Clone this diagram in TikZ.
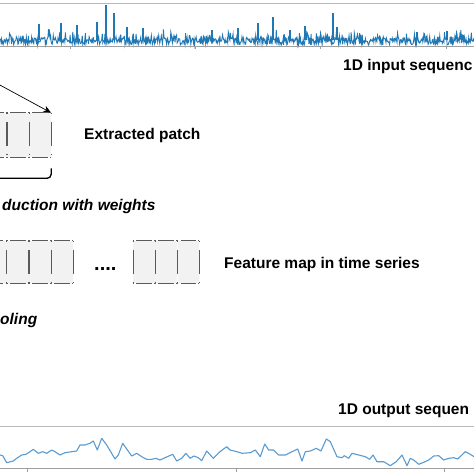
\documentclass[tikz,border=0pt]{standalone}
\usepackage{fontspec}
\setmainfont{Liberation Sans}
\usetikzlibrary{positioning,arrows.meta}
\definecolor{seqblue}{HTML}{1F77B4}
\definecolor{outblue}{HTML}{5A9BCF}
\definecolor{cellfill}{HTML}{F2F2F2}
\definecolor{edgegray}{HTML}{5A5A5A}
\tikzset{
  lbl/.style={inner sep=0pt, anchor=base west, font=\fontsize{15.5}{18}\selectfont\bfseries},
  ital/.style={lbl, font=\fontsize{15.5}{18}\selectfont\bfseries\itshape},
  cell/.style={fill=cellfill, inner sep=0pt, minimum width=21.7pt, minimum height=#1},
  hedge/.style={edgegray, line width=1.1pt, dash pattern=on 0.8pt off 2.4pt on 15.5pt off 2.4pt on 0.8pt off 10pt},
  vedge/.style={edgegray, line width=1.1pt, dash pattern=on 1pt off 8pt on 24pt off 8pt on 1pt off 10pt},
  frameln/.style={gray!55, line width=0.8pt},
  axisln/.style={gray!75, line width=0.8pt}
}
\begin{document}
\begin{tikzpicture}[x=1pt,y=-1pt,>={Stealth[length=8pt,width=7pt]}]
  \useasboundingbox (0,0) rectangle (474,474);
  \clip (0,0) rectangle (474,474);
  % input sequence
  \draw[frameln] (0,3) -- (474,3);
  \pgfmathsetseed{11}
  \draw[seqblue, line width=0.9pt] plot[domain=0:474, samples=900] (\x,{41.5+7*(rnd-0.5)-9*rnd^5});
  \foreach \sx/\sy in {39/24,61/23,77/25,97/22,106/5,114/13,127/27,143/28,212/30,238/28,258/23,273/17,290/30,305/26,333/13,337/27,417/32,447/31}
    \draw[seqblue, line width=1.1pt] (\sx,40) -- (\sx,\sy);
  \draw[axisln] (0,46) -- (474,46);
  \foreach \t in {70,195,320,446}
    \draw[axisln] (\t,46) -- (\t,49);
  \node[lbl] (inlbl) at (343,70) {1D input sequenc};
  % extracted patch
  \node[cell=44pt] (p1) at (18,135) {};
  \node[cell=44pt, right=0pt of p1] (p2) {};
  \node[cell=44pt, left=0pt of p1] (p0) {};
  \node[lbl] (patchlbl) at (84,139) {Extracted patch};
  \coordinate (src) at (-2,84);
  \draw[->, line width=0.7pt] (src) -- (p2.north east);
  \coordinate (brl) at (-5,178.3);
  \draw[line width=1.3pt, rounded corners=4pt] (brl) -- (p2.south east |- brl) -- ++(0,-10);
  \node[ital] (convlbl) at (2,210) {duction with weights};
  % feature map
  \node[cell=42pt] (m1) at (17.9,262) {};
  \node[cell=42pt, left=0pt of m1] (m0) {};
  \node[cell=42pt, right=0pt of m1] (m2) {};
  \node[cell=42pt, right=0pt of m2] (m3) {};
  \node[cell=42pt] (n1) at (144.2,262) {};
  \node[cell=42pt, right=0pt of n1] (n2) {};
  \node[cell=42pt, right=0pt of n2] (n3) {};
  \foreach \c in {p0,p1,p2,m0,m1,m2,m3,n1,n2,n3} {
    \draw[hedge] (\c.north west) -- (\c.north east);
    \draw[hedge] (\c.south west) -- (\c.south east);
    \draw[vedge] (\c.north west) -- (\c.south west);
    \draw[vedge] (\c.north east) -- (\c.south east);
  }
  \node[lbl, font=\fontsize{20}{22}\selectfont\bfseries] (dots) at (94,270) {....};
  \node[lbl] (maplbl) at (224,268.3) {Feature map in time series};
  \node[ital] (poollbl) at (0,324) {oling};
  % output sequence
  \node[lbl] (outlbl) at (338,414.3) {1D output sequen};
  \draw[frameln] (0,426.7) -- (474,426.7);
  \draw[outblue, line width=1.1pt, line join=round] plot coordinates {
    (0,455) (2.7,455.7) (6.7,462.7) (13.3,461) (16.7,458.3) (21.7,455) (26,454.3)
    (30,451.7) (33.3,449.3) (38.3,453.3) (42.7,451.7) (46.7,453.3) (51.7,450)
    (55,451.7) (60,455) (65,452.7) (71.7,451.7) (76.7,451) (80,445) (85,445)
    (90,443.3) (93.3,441) (97.3,450) (101.7,438.3) (106.7,445) (115,459)
    (118.3,455) (122.7,443.3) (126.7,449) (131.7,456) (136.7,453.3) (141.7,456.7)
    (146.7,459.3) (151.7,459.3) (156,458.3) (160,460) (165,457.7) (172.7,454.3)
    (176.7,461) (181.7,458.3) (186,453.3) (190,458.3) (194,456) (198.3,457.7)
    (201.7,460.7) (206.7,451) (213.3,458.3) (220,451.7) (226.7,446.7) (230,450)
    (237,451.7) (242,453.3) (250.3,452.7) (255.3,450) (260.3,456.7) (264.7,444)
    (268.7,450) (273.7,450) (278.7,455) (285.3,455) (292,451.7) (297.7,449)
    (302,461) (305.3,451.7) (310.3,451) (316.3,448.3) (321,451) (326.3,439)
    (330.3,441.7) (337,456.7) (342,457.7) (344.3,455.7) (348.7,458.3) (352,453.3)
    (358.7,455) (365.3,456.7) (369.7,459.3) (373,455) (377,461.7) (383.7,461.7)
    (390.3,465.7) (396.3,461.7) (402,455) (407,465.7) (410.3,458.3) (413.7,460)
    (418.7,464.3) (423.7,462.3) (428.7,460) (433.7,456) (438.7,455.7) (443.7,460)
    (448.7,458.3) (453.7,457.7) (457.7,459) (465.3,451.7) (470.3,454.3) (474,456.7)};
  \draw[axisln] (0,468.5) -- (474,468.5);
  \foreach \t in {27,236,444}
    \draw[axisln] (\t,468.5) -- (\t,471.5);
\end{tikzpicture}
\end{document}
